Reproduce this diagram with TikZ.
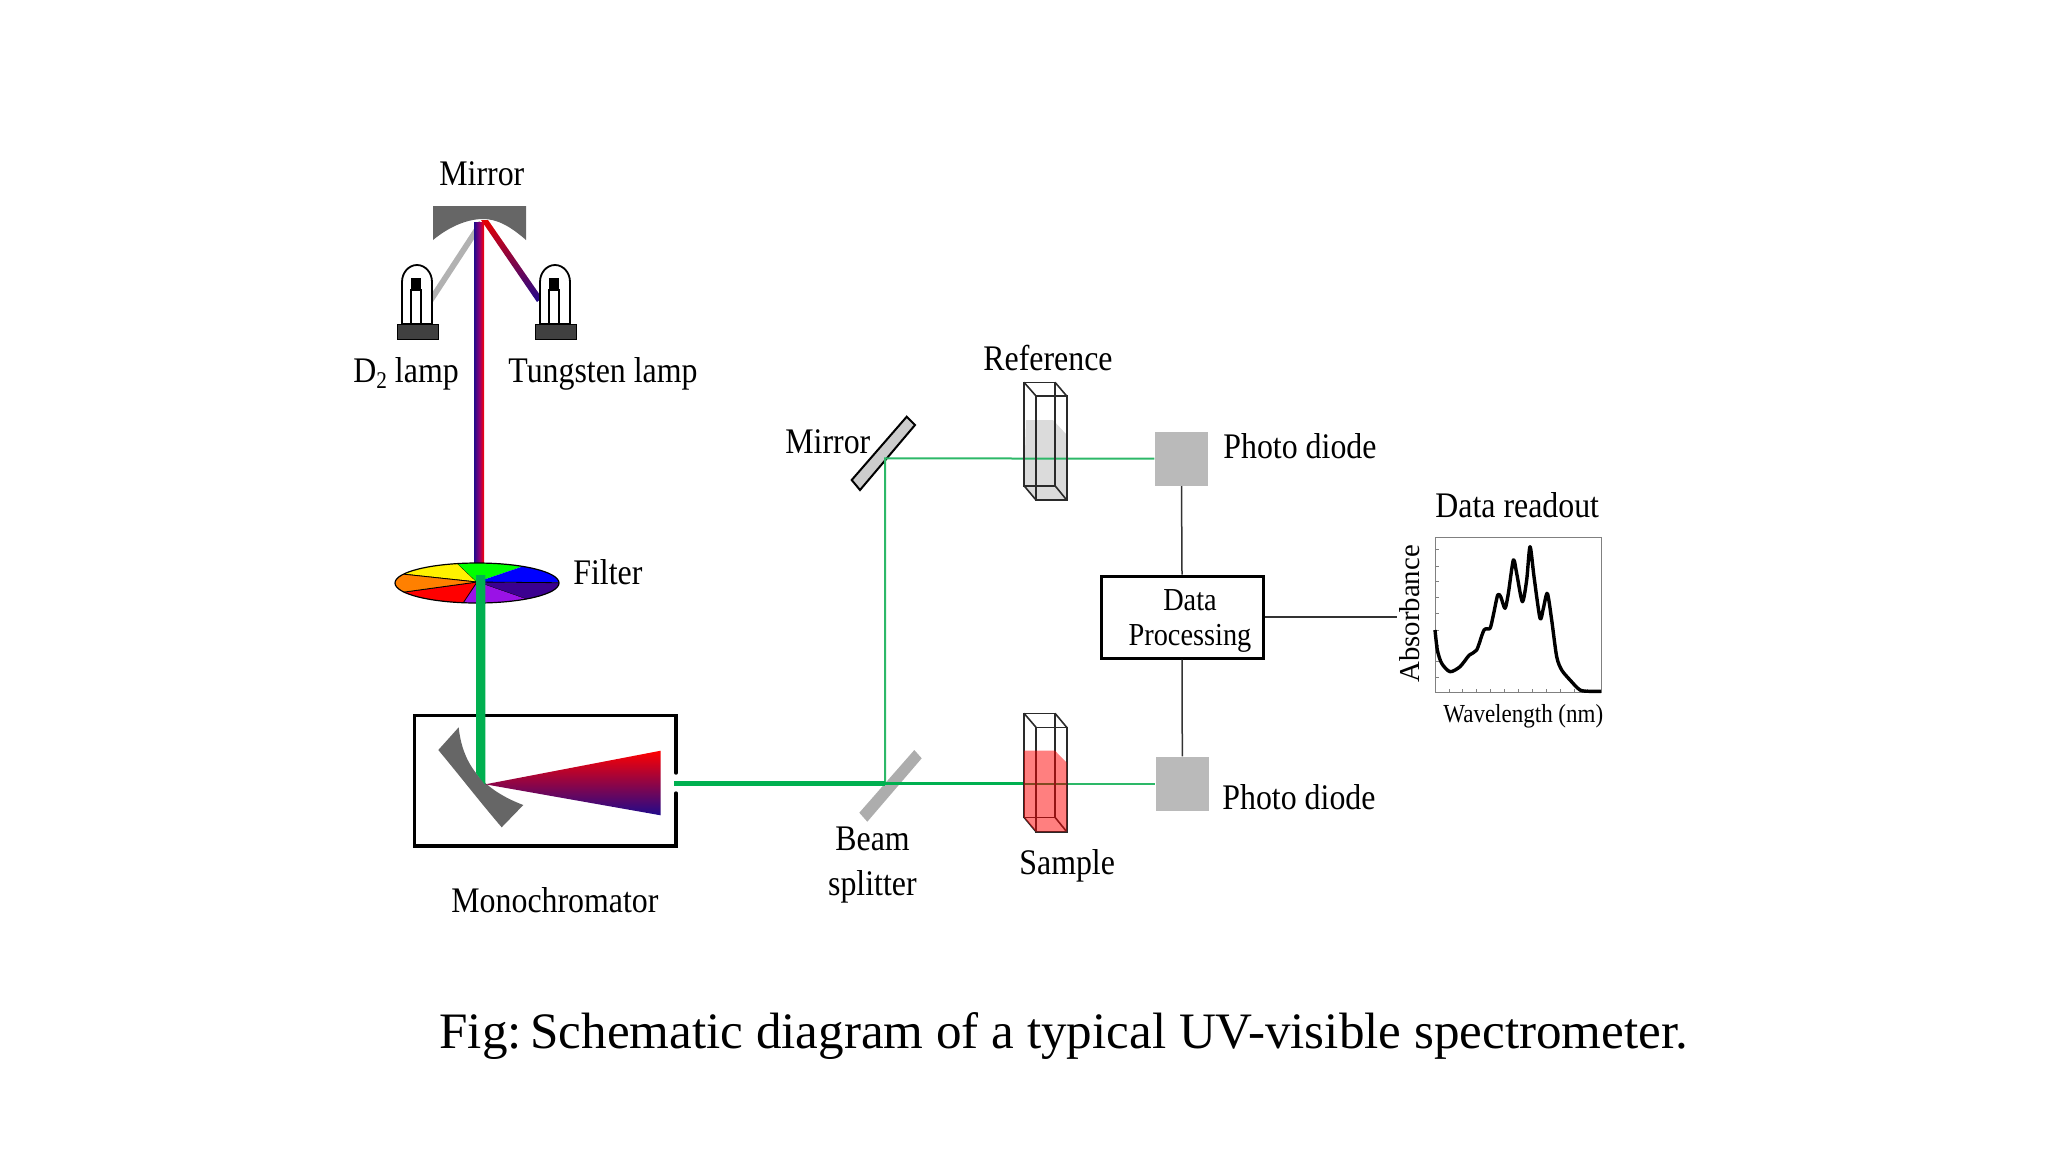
\documentclass[tikz,border=0pt]{standalone}
\usepackage{fontspec}
\usetikzlibrary{calc}
\setmainfont[FakeStretch=0.885]{Liberation Serif}
\newfontfamily\capfont{Liberation Serif}
\definecolor{beamgreen}{HTML}{00B050}
\definecolor{thingreen}{HTML}{2DB868}
\definecolor{darkgray}{HTML}{666666}
\definecolor{cuvline}{HTML}{2A2A2A}
\definecolor{beamblue}{HTML}{1F0A8C}
\definecolor{fviolet}{HTML}{9A12E6}
\definecolor{findigo}{HTML}{3B0090}
\tikzset{
  lbl/.style={inner sep=0pt,anchor=base west,font=\fontsize{18}{20}\selectfont},
  smalllbl/.style={inner sep=0pt,anchor=base west,font=\fontsize{13}{15}\selectfont},
  capt/.style={inner sep=0pt,anchor=base west,font=\capfont\fontsize{25.55}{28}\selectfont},
  diode/.style={draw=none,fill=black!27,minimum width=26.7pt,minimum height=27pt,inner sep=0pt},
  dpbox/.style={draw=black,line width=1.5pt,minimum width=81pt,minimum height=41pt,inner sep=0pt,align=center,font=\fontsize{16}{17.2}\selectfont},
  sig/.style={draw=black!80,line width=.75pt},
  sector/.style={draw=black,line width=.4pt},
  cuv/.style={draw=cuvline,line width=.8pt},
  thin green/.style={draw=thingreen,line width=1pt},
  thick green/.style={draw=beamgreen,line width=2.5pt},
  lamp/.style={draw=black,line width=.9pt,fill=white},
}
\begin{document}
\begin{tikzpicture}[x=0.5pt,y=-0.5pt]
\useasboundingbox (0,0) rectangle (2048,1152);
% ---------- coordinates
\coordinate (focus) at (483,220);
\coordinate (fc) at (477,582);
% ---------- top mirror
\fill[darkgray] (433,206) -- (526,206) -- (526,240) .. controls (510,226) and (497,219) .. (483,219) .. controls (468,219) and (450,226) .. (433,240) -- cycle;
% ---------- source beams
\fill[black!30] (479,221) -- (484,224) -- (433,302) -- (428,299) -- cycle;
\shade[top color=red!90!black,bottom color=beamblue] (481,220) -- (488,220) -- (542,298) -- (537,302) -- cycle;
\shade[left color=beamblue,right color=red,middle color=purple!70!blue] (474,222) rectangle (484,570);
% ---------- lamps
\foreach \dx/\lname in {0/lampa,138/lampb}{
  \begin{scope}[xshift=\dx*0.5pt]
    \path[lamp] (402,324) -- (402,282) arc[start angle=180,end angle=360,x radius=15,y radius=17] -- (432,324) -- cycle;
    \draw[black,line width=.7pt] (411,324) -- (411,290) -- (421,290) -- (421,324);
    \fill[black] (411,278) -- (421,278) -- (421,290) -- (411,290) -- cycle;
    \fill[black!75] (397,324) rectangle (438,339);
    \draw[black,line width=.4pt] (397,324) rectangle (438,339);
  \end{scope}
}
% ---------- filter
\begin{scope}
  \clip (fc) ++(0,1) ellipse [x radius=82,y radius=20];
  \coordinate (p1) at (405,574.3);
  \coordinate (p2) at (457.3,563.3);
  \coordinate (p3) at (524,566);
  \coordinate (p4) at (559,582.7);
  \coordinate (p5) at (526.7,599.3);
  \coordinate (p6) at (463.3,602.7);
  \coordinate (p7) at (406.7,591.7);
  \filldraw[sector,fill=yellow] (fc) -- ($(fc)!2!(p1)$) -- ($(fc)!2!(p2)$) -- cycle;
  \filldraw[sector,draw=none,fill=green] (fc) -- ($(fc)!2!(p2)$) -- ($(fc)!2!(p3)$) -- cycle;
  \filldraw[sector,draw=none,fill=blue] (fc) -- ($(fc)!2!(p3)$) -- ($(fc)!2!(p4)$) -- cycle;
  \filldraw[sector,fill=findigo] (fc) -- ($(fc)!2!(p4)$) -- ($(fc)!2!(p5)$) -- cycle;
  \filldraw[sector,draw=none,fill=fviolet] (fc) -- ($(fc)!2!(p5)$) -- ($(fc)!2!(p6)$) -- cycle;
  \filldraw[sector,fill=red] (fc) -- ($(fc)!2!(p6)$) -- ($(fc)!2!(p7)$) -- cycle;
  \filldraw[sector,fill=orange] (fc) -- ($(fc)!2!(p7)$) -- ($(fc)!2!(p1)$) -- cycle;
\end{scope}
\draw[black,line width=.6pt] (fc) ++(0,1) ellipse [x radius=82,y radius=20];
% ---------- monochromator
\draw[black,line width=1.7pt,line cap=round,line join=miter] (676,773) -- (676,715.7) -- (414.5,715.7) -- (414.5,846) -- (676,846) -- (676,793);
\fill[darkgray] (458.7,727.3) -- (438.3,750) .. controls (460,776) and (480,802) .. (501.7,827.3) -- (523.3,805) .. controls (478,788) and (462,760) .. (458.7,727.3) -- cycle;
\fill[beamgreen] (476,575) -- (485.3,575) -- (485.3,785) -- (476,773) -- cycle;
\shade[top color=red,bottom color=beamblue] (485.3,784.3) -- (660.7,750.7) -- (660.7,815.3) -- cycle;
% ---------- beam path
\coordinate (outslit) at (674,783.7);
\coordinate (split) at (885,783.7);
\coordinate (turn) at (885,458.3);
\node[diode] (pdt) at (1181.5,458.7) {};
\node[diode] (pdb) at (1182.3,783.7) {};
% beam splitter and mirror
\fill[black!32] (914.3,750) -- (921.7,758.3) -- (867.3,821.7) -- (859.3,812.7) -- cycle;
\filldraw[fill=black!20,draw=black,line width=1pt] (906.7,416.7) -- (915,425) -- (860,490) -- (851.7,480) -- cycle;
% reference cuvette liquid
\fill[black!14] (1026,420) -- (1053,420) -- (1066,434) -- (1066,500) -- (1036,500) -- (1024,486) -- cycle;
% beams
\draw[thin green] (split) -- (turn) -- (pdt.west);
\draw[thick green] (outslit) -- (split);
\draw[draw=beamgreen,line width=1.6pt] (split) -- (1024,783.7);
\draw[draw=beamgreen!85!black,line width=1pt] (1024,783.7) -- (1066.7,783.7);
\draw[thin green] (1066.7,783.7) -- (pdb.west);
% reference cuvette
\draw[cuv] (1024,382.3) rectangle (1055,485.7);
\draw[cuv] (1036,396) rectangle (1066.7,500);
\draw[cuv] (1024,382.3) -- (1036,396) (1055,382.3) -- (1066.7,396) (1024,485.7) -- (1036,500) (1055,485.7) -- (1066.7,500);
% sample cuvette
\draw[cuv] (1024,713.3) rectangle (1055,817.3);
\draw[cuv] (1036,727.3) rectangle (1066.7,831.7);
\draw[cuv] (1024,713.3) -- (1036,727.3) (1055,713.3) -- (1066.7,727.3) (1024,817.3) -- (1036,831.7) (1055,817.3) -- (1066.7,831.7);
\fill[red,fill opacity=.5] (1024,750.7) -- (1055,750.7) -- (1066.7,762.7) -- (1066.7,831.7) -- (1036,831.7) -- (1024,817.3) -- cycle;
% ---------- electronics
\node[dpbox] (dp) at (1182,617) {\rule{0pt}{14.5pt}\hspace*{8pt}Data\\[0pt]\hspace*{8pt}Processing};
\coordinate (dpout) at (1397,617);
\draw[sig] (pdt.south) -- (dp.north);
\draw[sig] (dp.south) -- (pdb.north);
\draw[sig] (dp.east) -- (dpout);
% ---------- readout
\draw[black!50,line width=.5pt] (1435,537.3) rectangle (1601,692.7);
\begin{scope}[shift={(1380,480)},scale=1/3]
  \foreach \ty in {208,258,305,353,400,450,497,545,593}
    \draw[black!50,line width=.35pt] (165,\ty) -- (177,\ty);
  \foreach \tx in {207,248,290,330,373,415,457,498,540,582,623}
    \draw[black!50,line width=.35pt] (\tx,638) -- (\tx,626);
  \draw[black,line width=1.7pt,line join=round] plot[smooth,tension=.45] coordinates {
    (165,450) (172,510) (185,550) (210,575) (240,560) (268,525) (290,510) (312,450) (330,445)
    (340,405) (353,345) (362,350) (375,385) (385,340) (400,240) (410,280) (427,365) (440,300) (450,200) (462,290) (480,415) (490,385) (502,340) (515,420) (530,530) (545,570)
    (570,600) (600,630) (630,634) (663,634)};
\end{scope}
% ---------- labels
\node[lbl] (mirrortop) at (439,185) {Mirror};
\node[lbl] (d2) at (353,382) {D\raisebox{-.4ex}{\fontsize{12}{12}\selectfont 2} lamp};
\node[lbl] (tung) at (508,382) {Tungsten lamp};
\node[lbl] (filt) at (573,584) {Filter};
\node[lbl] (mono) at (451,912) {Monochromator};
\node[lbl] (beam) at (835,850.7) {Beam};
\node[lbl] (splitter) at (827.7,895) {splitter};
\node[lbl] (sample) at (1019,874) {Sample};
\node[lbl] (refer) at (983,370.7) {Reference};
\node[lbl] (mirrorb) at (785,453) {Mirror};
\node[lbl] (pdtl) at (1223,458) {Photo diode};
\node[lbl] (pdbl) at (1222,809) {Photo diode};
\node[lbl] (readout) at (1435,517) {Data readout};
\node[smalllbl] (wl) at (1443,722) {Wavelength (nm)};
\node[smalllbl,font=\capfont\fontsize{14.4}{16}\selectfont,rotate=90] (abs) at (1419,683) {Absorbance};
\node[capt] (caption) at (439,1048) {Fig:\kern-2pt\ Schematic diagram of a typical UV-visible spectrometer.};
\end{tikzpicture}
\end{document}
